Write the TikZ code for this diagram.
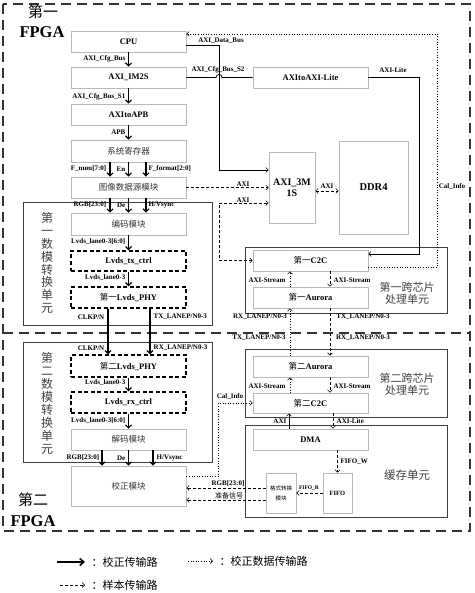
\documentclass[tikz,border=0pt]{standalone}
\usepackage{fontspec}
\setmainfont{Liberation Serif}
\newfontfamily\cjk{Noto Sans CJK SC}
\usetikzlibrary{arrows.meta}
\newcommand{\zh}[1]{{\cjk\mdseries #1}}

\begin{document}
\begin{tikzpicture}[x=1pt,y=-1pt,
  sbarb/.tip={Straight Barb[length=2.5pt,width=5pt,line width=0.6pt]},
  box/.style={draw=gray!55,line width=0.6pt,inner sep=0pt,minimum width=115pt,minimum height=21pt,font=\bfseries\fontsize{8.5}{9}\selectfont},
  lvds/.style={box,draw=black,line width=1.3pt,dash pattern=on 4pt off 2.5pt},
  unitbox/.style={draw=black!75,line width=0.8pt},
  fpga/.style={draw=black!80,line width=1.6pt,dash pattern=on 10pt off 6pt},
  lbl/.style={font=\bfseries\fontsize{7}{8}\selectfont,inner sep=0.5pt},
  zhlbl/.style={font=\cjk\fontsize{11}{12}\selectfont,text=black!75,align=center,inner sep=0pt},
  calib/.style={line width=1.2pt,-{Straight Barb[length=3pt,width=6pt]}},
  calibline/.style={line width=0.8pt},
  caldata/.style={line width=0.6pt,dotted,-sbarb},
  samplepath/.style={line width=0.7pt,dash pattern=on 3pt off 2pt,-sbarb}]
\useasboundingbox (0,0) rectangle (474,593);

\draw[fpga] (3,4) rectangle (470,531);
\draw[fpga] (3,333) -- (470,333);
\node[font=\cjk\fontsize{15}{15}\selectfont] (fpga1a) at (43,12) {第一};
\node[font=\bfseries\fontsize{16.5}{17}\selectfont] (fpga1b) at (42,32) {FPGA};
\node[font=\cjk\fontsize{15}{15}\selectfont] (fpga2a) at (33,500) {第二};
\node[font=\bfseries\fontsize{16.5}{17}\selectfont] (fpga2b) at (33,521) {FPGA};

\draw[unitbox] (23,202) rectangle (212,325);
\draw[unitbox] (23,342) rectangle (212,462);
\draw[unitbox] (245,247) rectangle (447,313);
\draw[unitbox] (245,349) rectangle (447,417);
\draw[unitbox] (245,425) rectangle (447,517);
\node[zhlbl,font=\cjk\fontsize{12}{12.9}\selectfont] (dac1l) at (47,263) {第\\一\\数\\模\\转\\换\\单\\元};
\node[zhlbl,font=\cjk\fontsize{12}{12.9}\selectfont] (dac2l) at (47,403.5) {第\\二\\数\\模\\转\\换\\单\\元};
\node[zhlbl] (xc1l) at (407,293) {第一跨芯片\\处理单元};
\node[zhlbl] (xc2l) at (407,384) {第二跨芯片\\处理单元};
\node[zhlbl,font=\cjk\fontsize{11.5}{12}\selectfont] (bufl) at (407,475) {缓存单元};

% first FPGA
\node[box] (cpu) at (128.5,41.5) {CPU};
\node[box] (im2s) at (128.5,77.5) {AXI\_IM2S};
\node[box] (apb) at (128.5,114.5) {AXItoAPB};
\node[box,minimum height=22pt,text=black!80] (sysreg) at (128.5,151) {\zh{系统寄存器}};
\node[box,text=black!80] (imgsrc) at (128.5,187.5) {\zh{图像数据源模块}};
\node[box,minimum height=22pt,text=black!80] (enc) at (128.5,224) {\zh{编码模块}};
\node[lvds,minimum height=20pt] (txctrl) at (128.5,261) {Lvds\_tx\_ctrl};
\node[lvds] (phy1) at (128.5,297.5) {\zh{第一}Lvds\_PHY};
\node[box] (lite) at (310.5,77.5) {AXItoAXI-Lite};
\node[box,minimum width=46pt,minimum height=71pt,align=center,font=\bfseries\fontsize{10}{10.5}\selectfont] (m3s) at (292,187.5) {AXI\_3M\\1S};
\node[box,minimum width=69pt,minimum height=93pt,font=\bfseries\fontsize{10.5}{11}\selectfont] (ddr) at (373.5,187.5) {DDR4};
\node[box] (c2ca) at (310.5,260.5) {\zh{第一}C2C};
\node[box] (aura) at (310.5,297.5) {\zh{第一}Aurora};

% second FPGA
\node[lvds,minimum height=22pt] (phy2) at (128.5,366) {\zh{第二}Lvds\_PHY};
\node[lvds] (rxctrl) at (128.5,402.5) {Lvds\_rx\_ctrl};
\node[box,text=black!80] (dec) at (128.5,439.5) {\zh{解码模块}};
\node[box,minimum height=40pt,text=black!80] (corr) at (128.5,486) {\zh{校正模块}};
\node[box] (aurb) at (310.5,366.5) {\zh{第二}Aurora};
\node[box,minimum height=20pt] (c2cb) at (310.5,403) {\zh{第二}C2C};
\node[box] (dma) at (310.5,439.5) {DMA};
\node[box,minimum width=30pt,minimum height=40pt,align=center,font=\cjk\fontsize{5.5}{10}\selectfont] (fmt) at (281,493) {格式转换\\模块};
\node[box,minimum width=29pt,minimum height=40pt,font=\bfseries\fontsize{6.5}{7}\selectfont] (fifo) at (337.5,493) {FIFO};

% calibration path
\draw[calib] (cpu.south) -- (im2s.north);
\node[lbl,anchor=east] (lcfg) at (126,59) {AXI\_Cfg\_Bus};
\draw[calib] (im2s.south) -- (apb.north);
\node[lbl,anchor=east] (lcfg1) at (126,97) {AXI\_Cfg\_Bus\_S1};
\draw[calib] (apb.south) -- (sysreg.north);
\node[lbl,anchor=east] (lapb) at (126,132) {APB};
\foreach \dx in {-18.5,0,17.5} {
  \draw[calib] ([xshift=\dx pt]sysreg.south) -- ([xshift=\dx pt]imgsrc.north);
  \draw[calib] ([xshift=\dx pt]imgsrc.south) -- ([xshift=\dx pt]enc.north);
}
\node[lbl,anchor=east] (lfnum) at (107,169) {F\_num[7:0]};
\node[lbl,anchor=east] (len) at (126,169) {En};
\node[lbl,anchor=west] (lfmt) at (148,169) {F\_format[2:0]};
\node[lbl,anchor=east] (lrgb1) at (107,205) {RGB[23:0]};
\node[lbl,anchor=east] (lde1) at (126,205) {De};
\node[lbl,anchor=west] (lhv1) at (148,205) {H/Vsync};
\draw[calib] (enc.south) -- (txctrl.north);
\node[lbl,anchor=east] (llane1) at (126,242) {Lvds\_lane0-3[6:0]};
\draw[calib] (txctrl.south) -- (phy1.north);
\node[lbl,anchor=east] (llane2) at (126,278) {Lvds\_lane0-3};
\draw[calib] ([xshift=-20.5pt]phy1.south) -- ([xshift=-20.5pt]phy2.north);
\draw[calib] ([xshift=21.5pt]phy1.south) -- ([xshift=21.5pt]phy2.north);
\node[lbl,anchor=east] (lclk1) at (105,317) {CLKP/N};
\node[lbl,anchor=west] (ltx1) at (153,317) {TX\_LANEP/N0-3};
\node[lbl,anchor=east] (lclk2) at (105,348) {CLKP/N};
\node[lbl,anchor=west] (lrx2) at (153,348) {RX\_LANEP/N0-3};
\draw[calib] (phy2.south) -- (rxctrl.north);
\node[lbl,anchor=east] (llane3) at (126,383) {Lvds\_lane0-3};
\draw[calib] (rxctrl.south) -- (dec.north);
\node[lbl,anchor=east] (llane4) at (126,421) {Lvds\_lane0-3[6:0]};
\foreach \dx in {-26.5,0,24.5}
  \draw[calib] ([xshift=\dx pt]dec.south) -- ([xshift=\dx pt]corr.north);
\node[lbl,anchor=east] (lrgb2) at (100,458) {RGB[23:0]};
\node[lbl,anchor=east] (lde2) at (126,458) {De};
\node[lbl,anchor=west] (lhv2) at (156,458) {H/Vsync};

\draw[calibline,-sbarb] ([yshift=-3.5pt]cpu.east) -- ++(33,0) |- ([yshift=17.5pt]m3s.west);
\node[lbl] (ldata) at (221,41) {AXI\_Data\_Bus};
\draw[calibline] (im2s.east) -- (216,77.5) .. controls (216,73.5) and (222,73.5) .. (222,77.5) -- (lite.west);
\node[lbl] (lcfg2) at (218,70) {AXI\_Cfg\_Bus\_S2};
\draw[calibline,-sbarb] (lite.east) -- ++(51,0) |- ([yshift=6.5pt]c2ca.east);
\node[lbl] (llite1) at (393,70) {AXI-Lite};
\draw[calibline,-sbarb] ([xshift=-21.5pt]dma.north) -- ([xshift=-21.5pt]c2cb.south);
\node[lbl,anchor=east] (laxi4) at (287,421) {AXI};

% calibration data path
\draw[caldata] ([yshift=-6.5pt]c2ca.east) -- ++(69,0) |- ([yshift=7.5pt]cpu.east);
\node[lbl] (lcal1) at (452,187) {Cal\_Info};
\draw[caldata] ([xshift=-20.5pt]aura.north) -- ([xshift=-20.5pt]c2ca.south);
\draw[caldata] ([xshift=-20.5pt]aurb.north) -- ([xshift=-20.5pt]aura.south);
\draw[caldata] ([xshift=-20.5pt]c2cb.north) -- ([xshift=-20.5pt]aurb.south);
\draw[caldata] ([yshift=10pt]corr.east) -- ++(32,0) |- (c2cb.west);
\node[lbl] (lcal2) at (230,397) {Cal\_Info};

% sample path
\coordinate (axibend) at (219,203);
\draw[samplepath] (imgsrc.east) -- (m3s.west);
\node[lbl] (laxi1) at (243,184) {AXI};
\draw[samplepath,sbarb-sbarb] (c2ca.west) -| (axibend) -- (axibend -| m3s.west);
\node[lbl] (laxi2) at (243,200) {AXI};
\draw[samplepath,sbarb-sbarb] ([yshift=-3.5pt]m3s.east) -- ([yshift=-3.5pt]m3s.east -| ddr.west);
\node[lbl] (laxi3) at (327,186) {AXI};
\draw[samplepath] ([xshift=19.5pt]c2ca.south) -- ([xshift=19.5pt]aura.north);
\draw[samplepath] ([xshift=19.5pt]aura.south) -- ([xshift=19.5pt]aurb.north);
\draw[samplepath] ([xshift=19.5pt]aurb.south) -- ([xshift=19.5pt]c2cb.north);
\draw[samplepath] ([xshift=22.5pt]c2cb.south) -- ([xshift=22.5pt]dma.north);
\node[lbl,anchor=west] (llite2) at (336,421) {AXI-Lite};
\draw[samplepath] (dma.south -| fifo.north) -- (fifo.north);
\node[lbl,anchor=west] (lfifow) at (340,462) {FIFO\_W};
\draw[samplepath] (fifo.west) -- (fmt.east);
\node[lbl,font=\bfseries\fontsize{5.5}{6}\selectfont] (lfifor) at (309,488) {FIFO\_R};
\draw[samplepath] ([yshift=5pt]fmt.west) -- ([yshift=5pt]fmt.west -| corr.east);
\node[lbl] (lrgb3) at (228,484) {RGB[23:0]};
\draw[samplepath] ([yshift=-7pt]fmt.west) -- ([yshift=-7pt]fmt.west -| corr.east);
\node[lbl,font=\cjk\fontsize{7}{8}\selectfont] (lready) at (229,496) {准备信号};

\node[lbl] (lrx1) at (260,317) {RX\_LANEP/N0-3};
\node[lbl] (ltx2) at (363,317) {TX\_LANEP/N0-3};
\node[lbl] (ltx3) at (259,338) {TX\_LANEP/N0-3};
\node[lbl] (lrx3) at (363,338) {RX\_LANEP/N0-3};
\node[lbl] (lst1) at (267,280) {AXI-Stream};
\node[lbl] (lst2) at (352,280) {AXI-Stream};
\node[lbl] (lst3) at (267,386) {AXI-Stream};
\node[lbl] (lst4) at (352,386) {AXI-Stream};

% legend
\node[font=\cjk\fontsize{11}{12}\selectfont,anchor=west] (leg1) at (88,562) {：校正传输路};
\draw[line width=1.6pt,-{Straight Barb[length=4pt,width=7pt]}] ([xshift=-31pt]leg1.west) -- ([xshift=-3pt]leg1.west);
\node[font=\cjk\fontsize{11}{12}\selectfont,anchor=west] (leg2) at (216,561) {：校正数据传输路};
\draw[caldata] ([xshift=-28pt]leg2.west) -- ([xshift=-3pt]leg2.west);
\node[font=\cjk\fontsize{11}{12}\selectfont,anchor=west] (leg3) at (88,585) {：样本传输路};
\draw[samplepath] ([xshift=-28pt]leg3.west) -- ([xshift=-3pt]leg3.west);
\end{tikzpicture}
\end{document}
